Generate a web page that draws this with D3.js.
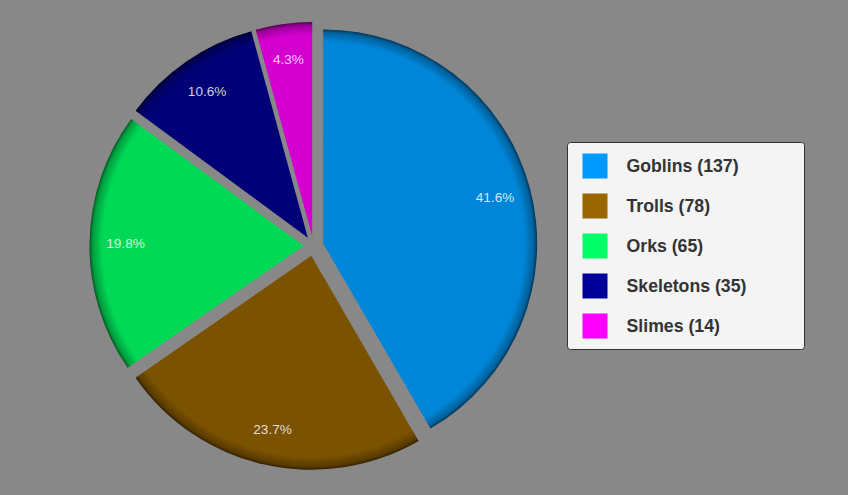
<!DOCTYPE html>
<html>
<head>
<meta charset="utf-8">
<script src="https://cdn.jsdelivr.net/npm/d3@7"></script>
<style>
  html, body { margin: 0; padding: 0; background: #888888; }
  svg { display: block; }
</style>
</head>
<body>
<svg id="chart" width="848" height="495"></svg>
<script>
const names = ["Goblins", "Trolls", "Orks", "Skeletons", "Slimes"];
const counts = [137, 78, 65, 35, 14];
const legendColors = ["#0099ff", "#996600", "#00ff66", "#000099", "#ff00ff"];
const sliceColors = ["#0086d8", "#7a5200", "#00d955", "#000077", "#d400d0"];

const width = 848, height = 495;
const cx = 313.5, cy = 246, radius = 214, explode = 10, labelRadius = 178;

const svg = d3.select("#chart");
const defs = svg.append("defs");

const total = d3.sum(counts);
const data = names.map((n, i) => ({ name: n, value: counts[i], i: i }));

const pie = d3.pie().sort(null).value(d => d.value);
const arc = d3.arc().innerRadius(0).outerRadius(radius);
const arcs = pie(data);

// radial gradient per slice: flat colour with a darker rim
arcs.forEach((a, i) => {
    const base = d3.color(sliceColors[i]);
    const g = defs.append("radialGradient")
        .attr("id", "grad" + i)
        .attr("gradientUnits", "userSpaceOnUse")
        .attr("cx", 0).attr("cy", 0).attr("r", radius);
    g.append("stop").attr("offset", 0).attr("stop-color", base.formatHex());
    g.append("stop").attr("offset", 0.94).attr("stop-color", base.formatHex());
    g.append("stop").attr("offset", 0.985).attr("stop-color", base.darker(0.9).formatHex());
    g.append("stop").attr("offset", 1).attr("stop-color", base.darker(2.6).formatHex());
});

const slices = svg.append("g").selectAll("g")
    .data(arcs)
    .join("g")
    .attr("transform", d => {
        const mid = (d.startAngle + d.endAngle) / 2;
        return `translate(${cx + Math.sin(mid) * explode},${cy - Math.cos(mid) * explode})`;
    });

slices.append("path")
    .attr("d", arc)
    .attr("fill", (d, i) => `url(#grad${i})`);

slices.append("text")
    .attr("transform", d => {
        const mid = (d.startAngle + d.endAngle) / 2;
        return `translate(${Math.sin(mid) * labelRadius},${-Math.cos(mid) * labelRadius})`;
    })
    .attr("text-anchor", "middle")
    .attr("dy", "0.35em")
    .attr("font-family", "Liberation Sans, Arial, sans-serif")
    .attr("font-size", 13.6)
    .attr("fill", "#ffffff")
    .attr("fill-opacity", 0.82)
    .text(d => (d.value / total * 100).toFixed(1) + "%");

// legend
const legend = svg.append("g").attr("transform", "translate(567.5,142.5)");
legend.append("rect")
    .attr("width", 237).attr("height", 207)
    .attr("rx", 3).attr("ry", 3)
    .attr("fill", "#f4f4f4")
    .attr("stroke", "#333333")
    .attr("stroke-width", 1);

const rowY = d3.scalePoint().domain(names).range([23.5, 183.5]);

const rows = legend.selectAll("g.row")
    .data(data)
    .join("g")
    .attr("class", "row")
    .attr("transform", d => `translate(0,${rowY(d.name)})`);

rows.append("rect")
    .attr("x", 15).attr("y", -12.5)
    .attr("width", 25).attr("height", 25)
    .attr("fill", (d, i) => legendColors[i]);

rows.append("text")
    .attr("x", 59)
    .attr("dy", "0.35em")
    .attr("font-family", "Liberation Sans, Arial, sans-serif")
    .attr("font-size", 17.7)
    .attr("font-weight", "bold")
    .attr("fill", "#333333")
    .text(d => `${d.name} (${d.value})`);
</script>
</body>
</html>
